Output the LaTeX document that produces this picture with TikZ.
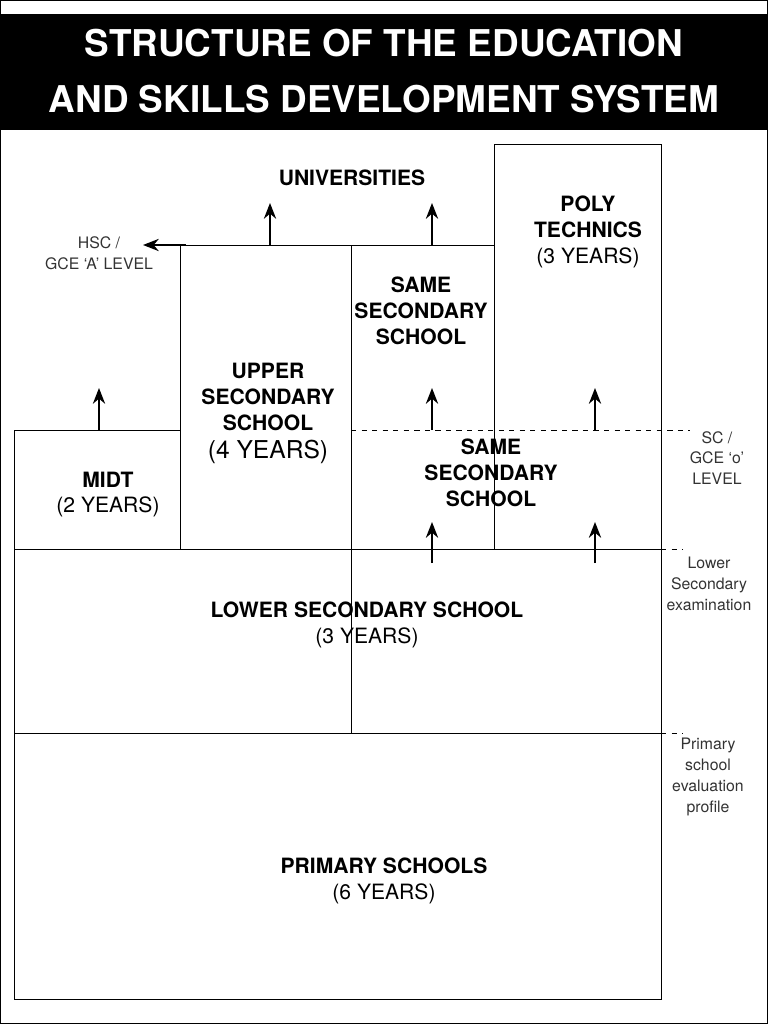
\documentclass[tikz,border=0pt]{standalone}
\usepackage{fontspec}
\setmainfont{TeX Gyre Heros}
\usetikzlibrary{positioning,arrows.meta}
\definecolor{labelgray}{HTML}{333333}

\begin{document}
\begin{tikzpicture}[x=0.02cm, y=-0.02cm,
    box/.style={draw, line width=0.5pt},
    up/.style={-{Stealth[length=9pt, width=7pt]}, line width=1pt},
    head/.style={font=\bfseries\fontsize{12}{14.7}\selectfont, align=center, inner sep=0pt},
    years/.style={font=\fontsize{12}{14.7}\selectfont, inner sep=0pt},
    side/.style={font=\fontsize{9}{11.9}\selectfont, text=labelgray, align=center, inner sep=0pt},
    guide/.style={dashed, line width=0.5pt},
]
\useasboundingbox (0,0) rectangle (768,1024);
\draw[line width=0.8pt] (0.5,0.5) rectangle (767.5,1023.5);
% title bar
\fill (0,14) rectangle (768,130);
\node[font=\bfseries\fontsize{21}{25.5}\selectfont, text=white, align=center,
      inner sep=0pt] (title) at (384,71)
    {STRUCTURE OF THE EDUCATION\\[6pt]AND SKILLS DEVELOPMENT SYSTEM};

% boxes
\draw[box] (14,733) rectangle (661,999);
\draw[box] (14,549) rectangle (661,733);
\draw[box] (351,549) -- (351,733);
\draw[box] (14,430) rectangle (180,549);
\draw[box] (180,245) rectangle (351,549);
\draw[box] (351,245) rectangle (494,549);
\draw[box] (494,144) rectangle (661,549);
\draw[guide] (351,430) -- (690,430);
\draw[guide] (661,549) -- (683,549);
\draw[guide] (661,733) -- (683,733);

% coordinates for arrows
\coordinate (hscA) at (186,245);
\coordinate (hscB) at (143,245);
\draw[box] (hscA) -- (180,245);
\draw[up] (hscA) -- (hscB);
\foreach \x/\ya/\yb in {99/430/388, 270/245/203, 432/245/203, 432/430/388,
                        595/430/388, 432/563/522, 595/563/522}
    \draw[up] (\x,\ya) -- (\x,\yb);

% labels
\node[head] (uni) at (352,178) {UNIVERSITIES};
\node[head] (poly) at (588,217) {POLY\\TECHNICS};
\node[years, below=5pt of poly] (polyy) {(3 YEARS)};
\node[head] (same1) at (421,311) {SAME\\SECONDARY\\SCHOOL};
\node[head] (upper) at (268,397) {UPPER\\SECONDARY\\SCHOOL};
\node[years, font=\fontsize{14}{16}\selectfont, below=5pt of upper] (uppery) {(4 YEARS)};
\node[head] (same2) at (491,473) {SAME\\SECONDARY\\SCHOOL};
\node[head] (midt) at (108,480) {MIDT};
\node[years, below=5pt of midt] (midty) {(2 YEARS)};
\node[head] (lower) at (367,610) {LOWER SECONDARY SCHOOL};
\node[years, below=5pt of lower] (lowery) {(3 YEARS)};
\node[head] (prim) at (384,866) {PRIMARY SCHOOLS};
\node[years, below=5pt of prim] (primy) {(6 YEARS)};

\node[side] (hsc) at (99,253) {HSC /\\GCE `A' LEVEL};
\node[side] (sc) at (717,458) {SC /\\GCE `o'\\LEVEL};
\node[side] (lse) at (709,584) {Lower\\Secondary\\examination};
\node[side] (pse) at (708,777) {Primary\\school\\evaluation\\profile};
\end{tikzpicture}
\end{document}
